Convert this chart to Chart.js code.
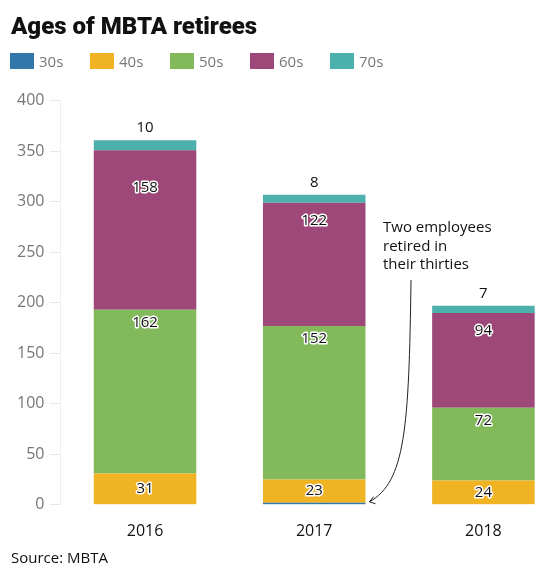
<!DOCTYPE html>
<html>
<head>
<meta charset="utf-8">
<script src="https://cdn.jsdelivr.net/npm/chart.js@4"></script>
<style>
  html, body { margin: 0; padding: 0; background: #fff; overflow: hidden; width: 550px; height: 572px; }
  #wrap { position: relative; width: 568px; height: 572px; }
  #legend { position: absolute; left: 10px; top: 52px; display: flex; font: 15px "Open Sans", sans-serif; color: #777; }
  #legend .item { width: 80px; display: flex; align-items: center; height: 17px; }
  #legend .box { width: 24px; height: 16px; margin-right: 5px; }
</style>
</head>
<body>
<div id="wrap"><canvas id="myChart"></canvas><div id="legend"></div></div>
<script>
const years = ['2016', '2017', '2018'];
const groups = ['30s', '40s', '50s', '60s', '70s'];
const thirties = [0, 2, 0];
const forties = [31, 23, 24];
const fifties = [162, 152, 72];
const sixties = [158, 122, 94];
const seventies = [10, 8, 7];
const yTicks = [0, 50, 100, 150, 200, 250, 300, 350, 400];

const colors = ['#2f78a9', '#f0b323', '#82b95b', '#9d4878', '#4cb0ad'];
const series = [thirties, forties, fifties, sixties, seventies];

const bodyFont = '"Open Sans", sans-serif';

// legend as html, same look as the original
const legendEl = document.getElementById('legend');
groups.forEach((g, k) => {
  const item = document.createElement('div');
  item.className = 'item';
  item.innerHTML = '<span class="box" style="background:' + colors[k] + '"></span><span>' + g + '</span>';
  legendEl.appendChild(item);
});

// numbers written on the bars (40s, 50s, 60s) and above them (70s)
const barLabels = {
  id: 'barLabels',
  afterDatasetsDraw(chart) {
    const ctx = chart.ctx;
    ctx.save();
    ctx.textAlign = 'center';
    ctx.textBaseline = 'middle';
    ctx.font = '15px ' + bodyFont;
    chart.data.datasets.forEach((ds, di) => {
      if (di === 0) return;
      const meta = chart.getDatasetMeta(di);
      meta.data.forEach((bar, i) => {
        const v = ds.data[i];
        let y;
        if (di === 1) y = (bar.y + bar.base) / 2;
        else if (di === 2) y = bar.y + 13;
        else if (di === 3) y = bar.y + (i === 0 ? 37 : 18);
        else y = bar.y - 12;
        if (di !== 4) {
          ctx.lineJoin = 'round';
          ctx.lineWidth = 3;
          ctx.strokeStyle = '#fff';
          ctx.strokeText(v, bar.x, y);
        }
        ctx.fillStyle = '#111';
        ctx.fillText(v, bar.x, y);
      });
    });
    ctx.restore();
  }
};

// note and curved arrow pointing at the thin 30s segment of 2017
const note = {
  id: 'note',
  afterDraw(chart) {
    const ctx = chart.ctx;
    const bar = chart.getDatasetMeta(0).data[1];
    const ex = bar.x + bar.width / 2 + 4;
    const ey = bar.y - 1;
    ctx.save();
    ctx.fillStyle = '#111';
    ctx.font = '15px ' + bodyFont;
    ctx.textAlign = 'left';
    ctx.textBaseline = 'middle';
    ['Two employees', 'retired in', 'their thirties'].forEach((t, k) => {
      ctx.fillText(t, 383, 228 + k * 18.5);
    });
    const sx = 411, sy = 280;
    ctx.strokeStyle = '#222';
    ctx.lineWidth = 1;
    ctx.beginPath();
    ctx.moveTo(sx, sy);
    ctx.bezierCurveTo(sx - 2, sy + 150, sx - 6, ey - 20, ex, ey);
    ctx.stroke();
    ctx.beginPath();
    ctx.moveTo(ex + 4, ey - 5);
    ctx.lineTo(ex, ey);
    ctx.lineTo(ex + 6, ey + 2);
    ctx.stroke();
    ctx.restore();
  }
};

const ctx = document.getElementById('myChart');

new Chart(ctx, {
  type: 'bar',
  data: {
    labels: years,
    datasets: groups.map((g, k) => ({
      label: g,
      data: series[k],
      backgroundColor: colors[k],
      borderWidth: 0,
      categoryPercentage: 1,
      barPercentage: 0.606
    }))
  },
  options: {
    responsive: true,
    maintainAspectRatio: false,
    animation: false,
    layout: { padding: { left: 11, right: 0, top: 0, bottom: 0 } },
    scales: {
      x: {
        stacked: true,
        grid: { display: false },
        border: { display: false },
        ticks: { color: '#111', font: { size: 16, family: bodyFont }, padding: 9 }
      },
      y: {
        stacked: true,
        min: 0,
        max: 400,
        afterBuildTicks(scale) { scale.ticks = yTicks.map(v => ({ value: v })); },
        grid: { drawOnChartArea: false, color: '#e6e6e6', tickLength: 10 },
        border: { color: '#eeeeee' },
        ticks: { color: '#777', font: { size: 16, family: bodyFont }, padding: 6 }
      }
    },
    plugins: {
      title: {
        display: true,
        text: 'Ages of MBTA retirees',
        align: 'start',
        color: '#111',
        font: { size: 24, weight: '900', family: 'Roboto, sans-serif' },
        padding: { top: 14, bottom: 58 }
      },
      subtitle: {
        display: true,
        text: 'Source: MBTA',
        position: 'bottom',
        align: 'start',
        color: '#111',
        font: { size: 15, family: bodyFont },
        padding: { top: 0, bottom: 4 }
      },
      legend: { display: false },
      tooltip: { enabled: false }
    }
  },
  plugins: [barLabels, note]
});
</script>
</body>
</html>
